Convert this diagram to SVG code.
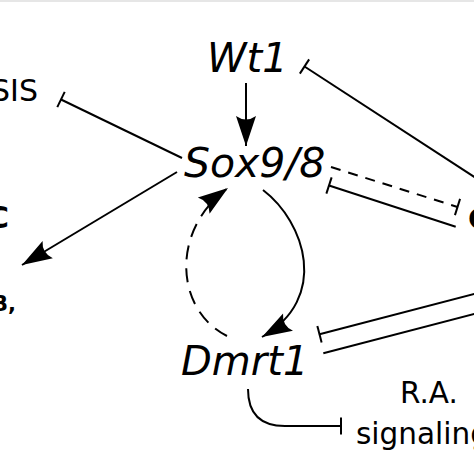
<svg xmlns="http://www.w3.org/2000/svg" width="474" height="474" viewBox="0 0 474 474">
<style>
.gene{font-family:"DejaVu Sans",sans-serif;font-style:italic;fill:#000}
.lab{font-family:"DejaVu Sans",sans-serif;fill:#000}
.bold{font-family:"DejaVu Sans",sans-serif;font-weight:bold;fill:#000}
.ln{fill:none;stroke:#000;stroke-width:2}
.dash{stroke-dasharray:10 8}
.dash2{stroke-dasharray:14 9}
.act{marker-end:url(#arr)}
.inh{marker-end:url(#tee)}
</style>
<defs>
<marker id="arr" markerUnits="userSpaceOnUse" viewBox="-34 -14 38 28" markerWidth="38" markerHeight="28" refX="0" refY="0" orient="auto">
<path d="M0,0 L-30,-10 Q-23,0 -30,10 Z" fill="#000"/>
</marker>
<marker id="tee" markerUnits="userSpaceOnUse" viewBox="-3 -10 6 20" markerWidth="6" markerHeight="20" refX="0" refY="0" orient="auto">
<line x1="0" y1="-8.5" x2="0" y2="8.5" stroke="#000" stroke-width="2"/>
</marker>
</defs>
<rect x="0" y="0" width="474" height="474" fill="#fff"/>
<rect x="0" y="0" width="474" height="2" fill="#e6e6e6"/>
<g id="connectors">
<path class="ln act" d="M246,83 L246,146"/>
<path class="ln act" d="M177,172 L22,265"/>
<path class="ln inh" d="M182,158 L61,99.5"/>
<path class="ln inh" d="M476,178 L304.5,66.5"/>
<path class="ln dash inh" d="M331,167 L457.5,207"/>
<path class="ln inh" d="M455.7,226.7 L329,185.5"/>
<path class="ln inh" d="M476,293.5 L319.5,334.2"/>
<path class="ln" d="M323.3,353.3 L476,313.5"/>
<path class="ln inh" d="M248,389 C248,415 262,426 285,426 L341,426"/>
<path class="ln act" d="M263,190 C305,222 330,298 262,337"/>
<path class="ln dash2 act" d="M227,336 C175,310 170,230 228,188"/>
</g>
<g id="node-wt1"><text class="gene" x="207" y="72" font-size="40">Wt1</text></g>
<g id="node-sox98"><text class="gene" x="184" y="177" font-size="41">Sox9/8</text></g>
<g id="node-dmrt1"><text class="gene" x="181" y="375" font-size="40">Dmrt1</text></g>
<g id="node-sis"><text class="lab" x="38" y="101" font-size="30" text-anchor="end">SIS</text></g>
<g id="node-left-c"><text class="bold" x="9" y="228" font-size="30" text-anchor="end">C</text></g>
<g id="node-left-b"><text class="bold" x="16" y="311" font-size="21" text-anchor="end">B,</text></g>
<g id="node-right"><text class="bold" x="468" y="229" font-size="29">C</text></g>
<g id="node-ra"><text class="lab" font-size="29.5"><tspan x="400" y="403">R.A.</tspan><tspan x="356" y="444">signaling</tspan></text></g>
</svg>
